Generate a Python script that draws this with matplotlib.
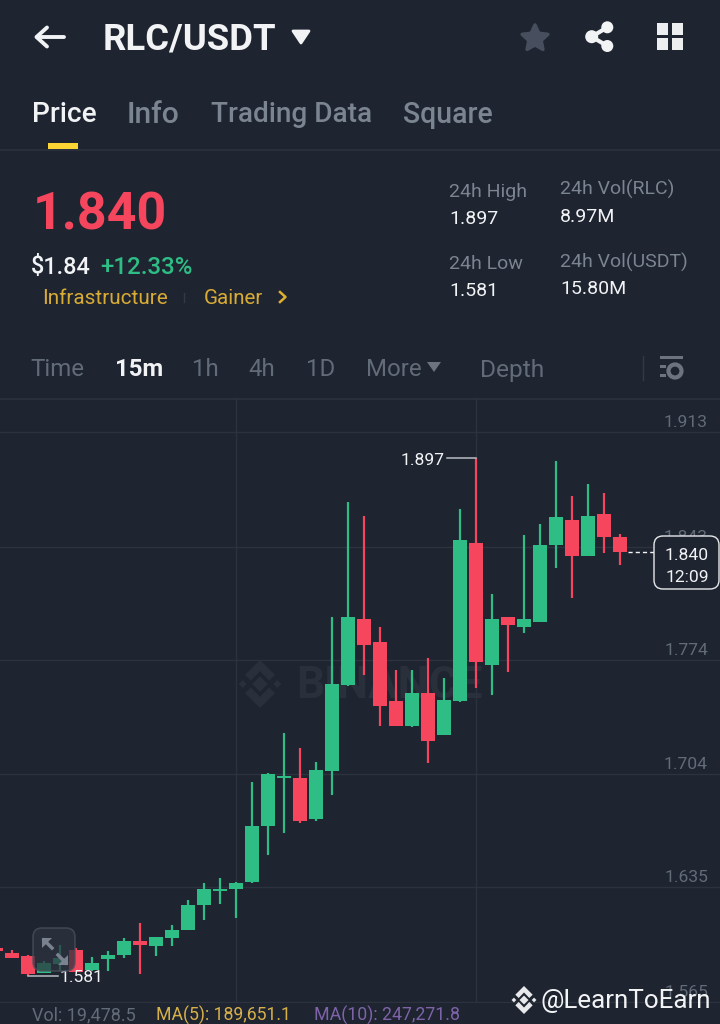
import math
import matplotlib
matplotlib.use("Agg")
import matplotlib.pyplot as plt
from matplotlib.patches import Polygon, Circle, Rectangle, FancyBboxPatch

# ---------- data ----------
opens = [1.598, 1.595, 1.593, 1.583, 1.588, 1.597, 1.5846, 1.591, 1.594, 1.602,
         1.599, 1.604, 1.609, 1.624, 1.633, 1.634, 1.638, 1.6725, 1.7016, 1.7016,
         1.6766, 1.706, 1.7585, 1.799, 1.785, 1.749, 1.7337, 1.7537, 1.728, 1.749,
         1.845, 1.7708, 1.800, 1.794, 1.7968, 1.844, 1.859, 1.837, 1.863, 1.849]
closes = [1.596, 1.592, 1.582, 1.589, 1.592, 1.5835, 1.589, 1.594, 1.602, 1.600,
          1.6045, 1.609, 1.624, 1.634, 1.634, 1.6375, 1.6725, 1.704, 1.703, 1.6755,
          1.7067, 1.759, 1.800, 1.783, 1.746, 1.7337, 1.7537, 1.7245, 1.7496, 1.847,
          1.7728, 1.799, 1.795, 1.799, 1.844, 1.861, 1.837, 1.862, 1.849, 1.840]
highs = [1.598, 1.597, 1.594, 1.590, 1.600, 1.598, 1.5925, 1.596, 1.604, 1.613,
         1.605, 1.612, 1.627, 1.6375, 1.6405, 1.6385, 1.6995, 1.7046, 1.729, 1.720,
         1.7117, 1.800, 1.870, 1.862, 1.794, 1.7677, 1.7677, 1.775, 1.7626, 1.866,
         1.897, 1.814, 1.800, 1.850, 1.8568, 1.895, 1.874, 1.881, 1.876, 1.851]
lows = [1.596, 1.592, 1.581, 1.583, 1.584, 1.5835, 1.584, 1.584, 1.592, 1.582,
        1.593, 1.599, 1.609, 1.615, 1.625, 1.616, 1.6375, 1.655, 1.668, 1.6745,
        1.6757, 1.6914, 1.758, 1.7646, 1.7337, 1.7337, 1.733, 1.7107, 1.728, 1.748,
        1.757, 1.7524, 1.7667, 1.790, 1.7968, 1.830, 1.8117, 1.837, 1.839, 1.832]
price_ticks = [1.913, 1.843, 1.774, 1.704, 1.635, 1.565]
vgrid_idx = [15, 30]
high_label, low_label, last_label = "1.897", "1.581", "1.840"
countdown = "12:09"

BG = "#1e2430"; GRID = "#2d333e"; GREEN = "#2ebd85"; RED = "#f6465d"
GRAY = "#7b8491"; AXGRAY = "#626b78"; YEL = "#d8ab35"; WHITE = "#f2f3f5"
FONT = "Roboto"
plt.rcParams["font.family"] = [FONT, "DejaVu Sans"]

W, H = 720, 1024
fig = plt.figure(figsize=(7.2, 10.24), dpi=100, facecolor=BG)

def px_axes(z):
    a = fig.add_axes([0, 0, 1, 1], zorder=z)
    a.set_xlim(0, W); a.set_ylim(H, 0); a.axis("off")
    a.patch.set_alpha(0)
    return a

back = px_axes(0)
ui = px_axes(3)

def pt(px):
    return px * 0.72

def txt(a, x, y, s, size, color, ha="left", weight="normal", **kw):
    return a.text(x, y + 2, s, fontsize=pt(size), color=color, ha=ha, va="center",
                  fontweight=weight, **kw)

def logo(a, cx, cy, s, color, **kw):
    a.add_patch(Polygon([(cx, cy-.32*s), (cx+.32*s, cy), (cx, cy+.32*s), (cx-.32*s, cy)], color=color, lw=0, **kw))
    for sgn in (-1, 1):
        pts = [(cx-.62*s, cy+sgn*.38*s), (cx, cy+sgn*1.0*s), (cx+.62*s, cy+sgn*.38*s),
               (cx+.38*s, cy+sgn*.14*s), (cx, cy+sgn*.54*s), (cx-.38*s, cy+sgn*.14*s)]
        a.add_patch(Polygon(pts, color=color, lw=0, **kw))
    for sx in (-1, 1):
        a.add_patch(Polygon([(cx+sx*.72*s, cy-.17*s), (cx+sx*.89*s, cy), (cx+sx*.72*s, cy+.17*s),
                             (cx+sx*.55*s, cy)], color=color, lw=0, **kw))

# ---------- watermark behind candles ----------
logo(back, 260, 684, 24, "#2a303b")
txt(back, 296, 684, "BINANCE", 44, "#2a303b", weight="bold")

# ---------- chart ----------
top_px, bot_px = 398, 1003
ax = fig.add_axes([0, 1 - bot_px / H, 1, (bot_px - top_px) / H], zorder=1)
ax.patch.set_alpha(0)
per_px = 0.0006105
ax.set_ylim(1.913 - (bot_px - 432) * per_px, 1.913 + (432 - top_px) * per_px)
ax.set_xlim(3.7 / 16, 723.7 / 16)
for s in ax.spines.values():
    s.set_visible(False)
ax.set_yticks(price_ticks); ax.set_xticks(vgrid_idx)
ax.tick_params(length=0, labelleft=False, labelbottom=False)
ax.grid(True, color=GRID, lw=1.0)
ax.set_axisbelow(True)

xs = list(range(len(opens)))
cols = [GREEN if c >= o else RED for o, c in zip(opens, closes)]
ax.vlines(xs, lows, highs, colors=cols, lw=1.6, zorder=3)
ax.bar(xs, [max(abs(c - o), 0.001) for o, c in zip(opens, closes)],
       bottom=[min(o, c) for o, c in zip(opens, closes)], width=0.875,
       color=cols, lw=0, zorder=4)

blend = ax.get_yaxis_transform()
for p in price_ticks:
    ax.annotate(f"{p:.3f}", xy=(0, p), xycoords=blend,
                xytext=(708 * .72, 9.5 * .72), textcoords="offset points", ha="right", va="center",
                fontsize=pt(17.5), color=AXGRAY, annotation_clip=False, zorder=2)

ih = highs.index(max(highs))
il = lows.index(min(lows))
ax.plot([ih - 29 / 16, ih], [max(highs)] * 2, color="#b9bdc4", lw=1.1, zorder=5)
ax.annotate(high_label, (ih, max(highs)), xytext=(-32 * .72, -2 * .72), textcoords="offset points",
            ha="right", va="center", fontsize=pt(17.5), color=WHITE, zorder=6)
ax.plot([il, il + 30 / 16], [min(lows)] * 2, color="#b9bdc4", lw=1.1, zorder=5)
ax.annotate(low_label, (il, min(lows)), xytext=(31 * .72, -2 * .72), textcoords="offset points",
            ha="left", va="center", fontsize=pt(17.5), color=WHITE, zorder=6)

last_i = len(opens) - 1
ax.plot([last_i + 0.45, last_i + 2.1], [closes[-1]] * 2, color=WHITE, lw=1, ls=(0, (3, 2.2)), zorder=5)

ui.add_patch(FancyBboxPatch((654, 536), 65, 53, boxstyle="round,pad=0,rounding_size=9",
                            fc=BG, ec="#e6e8ea", lw=1))
txt(ui, 687, 554, last_label, 17.5, WHITE, ha="center")
txt(ui, 687, 576, countdown, 17.5, WHITE, ha="center")

ui.add_patch(FancyBboxPatch((33, 928), 42, 43, boxstyle="round,pad=0,rounding_size=9",
                            fc="#2c323e", ec="#4a505c", lw=1.2, alpha=.72))
for (a0, b0, a1, b1, c) in [(44, 940, 52, 948, "#7a828f"), (66, 963, 58, 955, "#7a828f")]:
    ui.plot([a0, a1], [b0, b1], color=c, lw=2.5)
    sx = 1 if a1 > a0 else -1
    ui.add_patch(Polygon([(a0 - sx*2, b0 - sx*2), (a0 + sx*8, b0 - sx*2), (a0 - sx*2, b0 + sx*8)], color=c, lw=0))

# ---------- header ----------
ui.plot([37, 64], [37, 37], color=WHITE, lw=2.8, solid_capstyle="round")
ui.plot([47, 36.5, 47], [27.5, 37, 46.5], color=WHITE, lw=2.8, solid_capstyle="round", solid_joinstyle="round")
txt(ui, 103, 37, "RLC/USDT", 36.5, WHITE, weight="bold")
ui.add_patch(Polygon([(293, 31), (309, 31), (301, 43)], fc=WHITE, ec=WHITE, lw=2, joinstyle="round"))
star = []
for k in range(10):
    r = 13.5 if k % 2 == 0 else 6.5
    ang = -math.pi / 2 + k * math.pi / 5
    star.append((535 + r * math.cos(ang), 38.5 + r * math.sin(ang)))
ui.add_patch(Polygon(star, fc="#474f5e", ec="#474f5e", lw=2.5, joinstyle="round"))
for (a, b) in [(607.3, 27.3), (607.3, 46)]:
    ui.plot([591.7, a], [36.7, b], color=WHITE, lw=3)
    ui.add_patch(Circle((a, b), 6, color=WHITE, lw=0))
ui.add_patch(Circle((591.7, 36.7), 6.5, color=WHITE, lw=0))
for x0 in (656.7, 671.7):
    for y0 in (23.3, 38.3):
        ui.add_patch(Rectangle((x0, y0), 11.7, 11.7, color="#eceef0", lw=0))

txt(ui, 32, 113, "Price", 28, WHITE, weight="medium")
txt(ui, 127, 113, "Info", 30, GRAY, weight="medium")
txt(ui, 211, 113, "Trading Data", 28, GRAY, weight="medium")
txt(ui, 403, 113, "Square", 28.5, GRAY, weight="medium")
ui.add_patch(Rectangle((48, 143), 30, 6, color="#fcd535", lw=0))
ui.plot([0, W], [149.5, 149.5], color=GRID, lw=1.2)

txt(ui, 33, 214, "1.840", 52, RED, weight="bold")
txt(ui, 31, 265, "$1.84", 23.5, WHITE, weight="medium")
txt(ui, 100, 265, "+12.33%", 24, GREEN, weight="medium")
txt(ui, 42, 297, "Infrastructure", 20.8, YEL)
ui.plot([184, 184], [293, 302], color="#343a45", lw=1)
txt(ui, 204, 297, "Gainer", 20.5, YEL)
ui.plot([280, 285.5, 280], [292, 297, 302], color="#e0b032", lw=1.8)

txt(ui, 449, 190, "24h High", 19.5, GRAY)
txt(ui, 449, 217, "1.897", 19.5, WHITE)
txt(ui, 560, 187, "24h Vol(RLC)", 19.5, GRAY)
txt(ui, 560, 215, "8.97M", 19.5, WHITE)
txt(ui, 449, 262, "24h Low", 19.5, GRAY)
txt(ui, 449, 289, "1.581", 19.5, WHITE)
txt(ui, 560, 260, "24h Vol(USDT)", 19.5, GRAY)
txt(ui, 560, 287, "15.80M", 19.5, WHITE)

txt(ui, 30, 368, "Time", 24, AXGRAY)
txt(ui, 115, 368, "15m", 24, WHITE, weight="bold")
txt(ui, 192, 368, "1h", 24, AXGRAY)
txt(ui, 248, 368, "4h", 24, AXGRAY)
txt(ui, 306, 368, "1D", 24, AXGRAY)
txt(ui, 366, 368, "More", 24, AXGRAY)
ui.add_patch(Polygon([(427, 362), (441, 362), (434, 372)], color="#6d7480", lw=0))
txt(ui, 480, 368, "Depth", 24.5, AXGRAY)
ui.plot([642.5, 642.5], [356, 380], color="#343a45", lw=1)
ui.add_patch(Rectangle((660, 356), 23, 3, color="#6d7480", lw=0))
ui.add_patch(Rectangle((660, 365), 6, 3, color="#6d7480", lw=0))
ui.add_patch(Rectangle((660, 374), 6, 3, color="#6d7480", lw=0))
ui.add_patch(Circle((675, 371), 6.5, fc=BG, ec="#6d7480", lw=3))
ui.plot([0, W], [398.5, 398.5], color=GRID, lw=1.2)

# ---------- footer ----------
txt(ui, 32, 1013, "Vol: 19,478.5", 18, AXGRAY)
txt(ui, 156, 1013, "MA(5): 189,651.1", 17.6, "#d7b04a")
txt(ui, 314, 1013, "MA(10): 247,271.8", 17.8, "#7e63a9")
logo(ui, 524, 1000, 14, "#e8e9eb")
txt(ui, 541, 999, "@LearnToEarn", 26, WHITE)

fig.savefig("out.png", dpi=100, facecolor=BG)
